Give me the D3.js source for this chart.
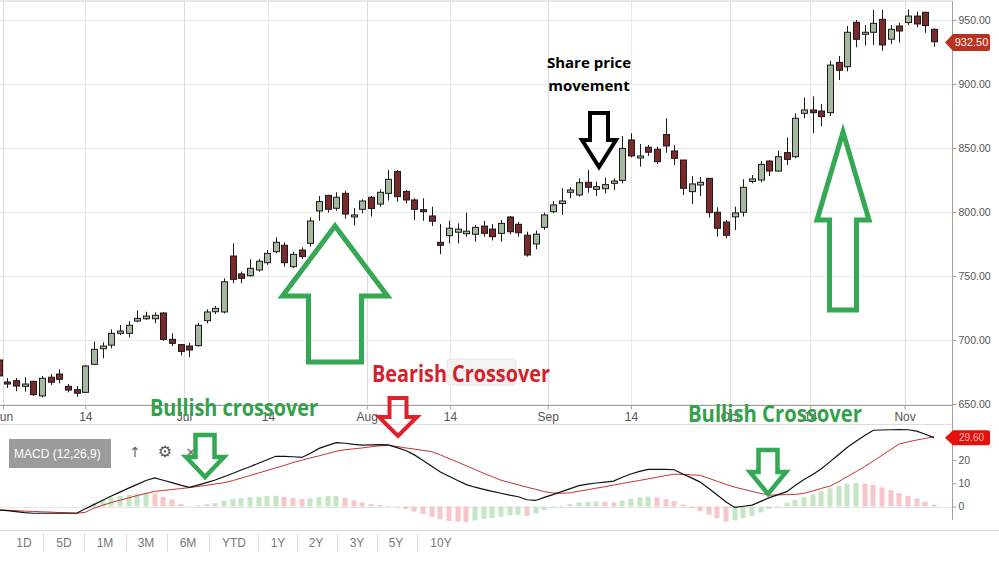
<!DOCTYPE html>
<html><head><meta charset="utf-8">
<script src="https://cdn.jsdelivr.net/npm/d3@7"></script>
<style>html,body{margin:0;padding:0;background:#fff;overflow:hidden}svg{display:block}</style>
</head><body><svg id="c" width="999" height="569"></svg>
<script>
// ---------- DATA ----------
const openP  = [684.4,667.2,668.2,663.8,667.7,656.3,670.9,673.4,663.8,661.2,659.1,681,693.2,696,705.2,705.2,714.8,716.6,716.6,721.1,700.5,696.4,695.3,695.6,715.1,722.1,721.9,765.6,751.6,750.2,754.7,760.4,769,774,757.3,770.3,775.5,800.8,813,802.9,814.6,796.2,802.1,811.5,806.2,814.6,831.7,816,809.4,801.8,796.9,776.3,781.5,784.2,783,782.6,789,786.7,783.3,796.1,790.4,781.9,775,788,800.2,806.6,815.4,813.3,823.2,817.7,818.2,822.4,824.7,856.3,842.2,850.6,849,860.5,847.7,840.6,815.9,821.1,826.3,799.8,792.2,796.2,799.8,823.9,825,839.8,832,846.4,843.2,877.1,879.7,878.9,877.6,916.9,913.5,948.2,939.8,940.4,950.5,935,945.3,948,953.1,956,942.7];
const highP  = [686,670.3,670.3,670.9,668.2,671.9,673.4,677.1,665.6,664,680.5,698.7,698.2,708.3,711.7,714.8,723.2,722.1,721.6,721.6,705.2,696.9,697.9,713.5,724,726.6,748.2,775.5,753.4,763,763.3,770.3,780.2,776.3,769,772.4,795.8,812.5,813.3,815.4,816.4,803.1,809.9,812.5,817.7,832.8,832.8,817.2,810.7,810.7,804.1,790.6,793.2,791.1,799.5,789.8,793.2,790.6,793.8,796.9,792.3,784.6,785.5,799.5,808.6,818.5,819.3,826.3,832.8,823.7,826.8,826.3,859.4,861.5,853.1,852.3,851.1,873.2,852.3,840.6,828.1,827.3,826.3,803.7,793.8,804.1,825.5,828.9,839.8,840.6,847.9,858.3,877.1,889.5,890.3,884.4,918.2,921.9,945.3,950,946.1,957.8,957.8,946.1,948,958.3,956.5,956.5,943.5];
const lowP   = [670,662.5,660,659.6,656.3,655.2,664.8,666.2,659.1,655.7,658.6,680.5,685.7,693.5,703.9,702.1,713.8,715.6,713,699.5,695.3,688,686.5,694.8,713,720.3,720.8,744.3,744.3,749.5,753.4,758.6,767.7,757.3,756,763.3,772.9,793.2,799.5,801,794.8,789.6,799,796.4,804.1,808.9,808,806.8,793.8,793.2,789.1,767,775.5,775.5,780.7,776.8,780.7,777.8,776.8,782.6,780.7,765.1,770.9,786,799,797.7,810.7,812,815.1,812.5,814.6,817.2,822.4,842.7,835.4,843.8,837.5,846.3,836.7,813.3,806.2,812.5,795.8,780.7,779.4,785.9,796.4,822.4,823.2,828.1,831.5,836.7,842,873.2,861.5,867.2,875,903.1,909.9,928.7,930,930.5,926,931.3,932.4,946.1,944.3,940,929.1];
const closeP = [671.9,665.6,664,665.6,657.3,670.1,667,669.3,660.9,658.4,679.7,692.7,695.3,705.2,707,711.5,716.9,718.7,719.3,700.5,697.4,691.1,692.2,711.5,721.9,724.7,745.5,747.4,748.2,756,761.5,767.7,776.3,760.4,766.9,765.1,793,808.1,802.1,811.5,798.4,797.7,808.6,802.7,815.4,825.5,812,809.4,802.1,800.8,792.8,774,787.3,786.6,785,788,783.3,780.7,791.1,784.6,783.8,766.4,782.7,797.7,805.5,808.6,817.2,822.9,819.3,819.8,821.4,824.2,849.7,843.8,843.8,846.7,839.3,851.6,841.9,818.5,821.9,823.2,799.5,787.3,781.8,799.3,819.3,825.8,837.2,832,843.2,841.1,873.2,879.7,877.6,874.5,914.8,910.7,940.4,934.9,940.4,947.4,930.5,942.7,941.4,953.1,946.9,945.6,933];
const macdLine   = [-1.5,-1.8,-2.2,-2.6,-2.9,-2.9,-2.9,-2.9,-2.9,-2.9,-1.0,0.8,2.7,4.5,6.2,7.9,9.5,11.2,12.3,11.3,10.3,9.2,8.2,9.2,10.3,11.4,12.8,14.2,15.7,17.1,18.6,20.1,21.6,21.6,21.4,21.1,22.9,25.0,26.3,27.5,27.2,26.7,26.4,26.5,26.6,26.5,25.3,24.1,22.2,19.8,17.3,14.8,13.0,11.2,9.4,8.3,7.4,6.5,5.7,4.9,4.2,2.9,2.6,3.9,5.1,6.4,7.7,9.0,9.6,10.1,10.5,10.9,12.6,14.0,15.1,16.0,16.0,16.0,15.8,14.0,12.3,10.5,7.7,4.8,1.9,-0.4,0.1,0.6,2.2,3.8,5.1,6.4,9.1,11.6,13.8,16.2,19.3,22.4,25.5,28.1,30.5,32.8,32.9,33.0,33.1,33.0,32.4,31.1,29.6];
const signalLine = [-1.5,-1.6,-1.8,-2.0,-2.1,-2.3,-2.4,-2.6,-2.7,-2.9,-2.5,-0.7,0.5,1.7,2.7,3.7,4.7,5.6,6.5,6.9,7.3,7.7,8.1,8.6,9.1,9.7,10.2,11.1,12.2,13.3,14.4,15.5,16.6,17.7,18.9,19.9,20.9,21.8,22.8,23.8,24.4,24.8,25.2,25.7,26.1,26.3,25.8,25.2,24.7,24.1,23.6,22.2,20.6,19.1,17.5,15.9,14.3,12.8,11.3,10.3,9.3,8.3,7.4,6.4,5.8,5.7,5.9,6.6,7.2,7.9,8.5,9.2,9.9,10.6,11.2,11.9,12.6,13.3,13.9,13.8,13.6,13.4,12.1,10.8,9.5,8.3,7.4,6.5,5.6,4.9,5.0,5.1,5.2,5.7,6.7,7.8,8.8,10.7,12.9,15.0,17.2,19.6,22.0,24.5,26.9,27.8,28.6,29.3,30.0];
const histogram  = [0.2,0.1,0,-0.1,0,0,-0.1,0,0,0,0.5,1.5,3.0,4.0,4.5,5.0,5.3,5.8,5.6,4.2,3.0,1.2,0.2,0.5,1.0,1.5,2.5,3.2,3.6,4.0,4.2,4.5,4.6,4.2,3.6,3.2,3.5,4.0,4.5,4.6,3.8,2.7,1.8,1.0,0.6,0.3,-0.3,-1.0,-2.2,-3.3,-4.5,-5.5,-6.2,-6.5,-6.8,-6.0,-5.4,-5.0,-4.4,-3.8,-3.5,-4.0,-3.0,-1.5,-0.5,0.3,1.0,1.8,2.0,2.1,2.0,1.8,2.6,3.4,3.9,4.2,3.9,3.2,2.4,0.8,-0.7,-2.0,-3.5,-5.0,-6.5,-6.0,-5.0,-4.0,-2.5,-1.0,0.3,1.5,2.8,4.0,5.2,6.5,7.8,8.8,9.8,10.2,9.8,9.3,8.2,7.0,5.8,4.6,3.5,2.0,0.8];
const timeTickLabels = ["Jun","14","Jul","14","Aug","14","Sep","14","Oct","14","Nov"];
const timeTickIndex  = [0.5,10,21.4,31.1,42.5,52.1,63.4,73,84.4,93.7,104.6];
const priceTicks = [650,700,750,800,850,900,950];
const macdTicks = [0,10,20];
const lastPrice = 932.50;
const rangeButtons = ["1D","5D","1M","3M","6M","YTD","1Y","2Y","3Y","5Y","10Y"];

// ---------- LAYOUT ----------
const svg = d3.select("#c");
const W = 999, axisX = 952;
const x = d3.scaleLinear().domain([0, openP.length - 1]).range([-1.3, 934]);
const y = d3.scaleLinear().domain([650, 950]).range([404, 20]);
const ym = d3.scaleLinear().domain([0, 20]).range([506.5, 460]);
const AX = "Liberation Sans, Arial, sans-serif";

// top border
svg.append("line").attr("x1",0).attr("x2",axisX).attr("y1",1).attr("y2",1).attr("stroke","#d0d0d0");

// grid
const grid = svg.append("g");
grid.selectAll(".hg").data(priceTicks).join("line")
  .attr("x1",0).attr("x2",axisX).attr("y1",d=>Math.round(y(d))+0.5).attr("y2",d=>Math.round(y(d))+0.5)
  .attr("stroke","#ebebeb");
grid.selectAll(".vg").data(timeTickIndex).join("line")
  .attr("x1",d=>Math.round(x(d))+0.5).attr("x2",d=>Math.round(x(d))+0.5).attr("y1",1).attr("y2",405)
  .attr("stroke",(d,i)=> timeTickLabels[i].length===3 ? "#dcdcdc" : "#e8e8e8");

// candles
const idx = d3.range(openP.length);
const cg = svg.append("g");
cg.selectAll("line.w").data(idx).join("line")
  .attr("x1",i=>Math.round(x(i))+0.5).attr("x2",i=>Math.round(x(i))+0.5)
  .attr("y1",i=>y(highP[i])).attr("y2",i=>y(lowP[i]))
  .attr("stroke","#1a1a1a").attr("stroke-width",1);
cg.selectAll("rect.b").data(idx).join("rect")
  .attr("x",i=>Math.round(x(i))-2.5).attr("width",6)
  .attr("y",i=>y(Math.max(openP[i],closeP[i])))
  .attr("height",i=>Math.max(2, Math.abs(y(openP[i])-y(closeP[i]))))
  .attr("fill",i=> closeP[i]>=openP[i] ? "#a4b99d" : "#7a2a2a")
  .attr("stroke","#1a1a1a").attr("stroke-width",1);

// price axis
svg.append("line").attr("x1",axisX+0.5).attr("x2",axisX+0.5).attr("y1",1).attr("y2",520).attr("stroke","#a0a0a0");
const ya = svg.append("g").attr("transform",`translate(${axisX+0.5},0)`)
  .call(d3.axisRight(y).tickValues(priceTicks).tickFormat(d3.format(".2f")).tickSize(4).tickPadding(2));
ya.select(".domain").remove();
ya.selectAll("line").attr("stroke","#a0a0a0");
ya.selectAll("text").attr("fill","#555").style("font-family",AX).style("font-size","10.5px");

// x axis
svg.append("line").attr("x1",0).attr("x2",axisX).attr("y1",405.5).attr("y2",405.5).attr("stroke","#a0a0a0");
svg.append("line").attr("x1",0).attr("x2",axisX).attr("y1",424.5).attr("y2",424.5).attr("stroke","#dedede");
const xa = svg.append("g").attr("transform","translate(0,405.5)")
  .call(d3.axisBottom(x).tickValues(timeTickIndex).tickFormat((d,i)=>timeTickLabels[i]).tickSize(4).tickPadding(3));
xa.select(".domain").remove();
xa.selectAll("line").attr("stroke","#a0a0a0");
xa.selectAll("text").attr("fill","#555").style("font-family",AX).style("font-size","12px");

// last price tag
const ly = y(lastPrice);
svg.append("path")
  .attr("d",`M945,${ly} L953,${ly-8.5} L988,${ly-8.5} Q990,${ly-8.5} 990,${ly-6.5} L990,${ly+6.5} Q990,${ly+8.5} 988,${ly+8.5} L953,${ly+8.5} Z`)
  .attr("fill","#b8321f");
svg.append("text").attr("x",971.5).attr("y",ly+4).attr("text-anchor","middle")
  .attr("fill","#fff").style("font-family",AX).style("font-size","11px").text(d3.format(".2f")(lastPrice));

// ---------- MACD PANE ----------
svg.append("line").attr("x1",0).attr("x2",axisX).attr("y1",Math.round(ym(0))+0.5).attr("y2",Math.round(ym(0))+0.5).attr("stroke","#e6e6e6");
const hg = svg.append("g");
hg.selectAll("rect").data(idx).join("rect")
  .attr("x",i=>Math.round(x(i))-2.5).attr("width",5)
  .attr("y",i=>Math.min(ym(histogram[i]),ym(0)))
  .attr("height",i=>Math.abs(ym(histogram[i])-ym(0)))
  .attr("fill",i=> (i===0 || histogram[i]>=histogram[i-1]) ? "#c4e6c4" : "#f6c6c8");
const lineGen = arr => d3.line().x((d,i)=>x(i)).y(d=>ym(d))(arr);
svg.append("path").attr("d",lineGen(signalLine)).attr("fill","none").attr("stroke","#c9302c").attr("stroke-width",1);
svg.append("path").attr("d",lineGen(macdLine)).attr("fill","none").attr("stroke","#111").attr("stroke-width",1.2);

const ma = svg.append("g").attr("transform",`translate(${axisX+0.5},0)`)
  .call(d3.axisRight(ym).tickValues(macdTicks).tickSize(4).tickPadding(2));
ma.select(".domain").remove();
ma.selectAll("line").attr("stroke","#a0a0a0");
ma.selectAll("text").attr("fill","#555").style("font-family",AX).style("font-size","10.5px");

const my = ym(macdLine[macdLine.length-1]);
svg.append("path")
  .attr("d",`M945,${my} L953,${my-7.5} L988,${my-7.5} Q990,${my-7.5} 990,${my-5.5} L990,${my+5.5} Q990,${my+7.5} 988,${my+7.5} L953,${my+7.5} Z`)
  .attr("fill","#e3120b");
svg.append("text").attr("x",971.5).attr("y",my+3.5).attr("text-anchor","middle")
  .attr("fill","#fbb").style("font-family",AX).style("font-size","10px")
  .text(d3.format(".2f")(macdLine[macdLine.length-1]));

// MACD label + icons
svg.append("rect").attr("x",9).attr("y",439).attr("width",102).attr("height",29).attr("fill","#9b9b9b");
svg.append("text").attr("x",14).attr("y",458).attr("fill","#fff").style("font-family",AX).style("font-size","12px").text("MACD (12,26,9)");
svg.append("text").attr("x",135).attr("y",457).attr("text-anchor","middle").attr("fill","#666").style("font-family","DejaVu Sans").style("font-size","14px").text("↑");
svg.append("text").attr("x",165).attr("y",457).attr("text-anchor","middle").attr("fill","#555").style("font-family","DejaVu Sans").style("font-size","16px").text("⚙");
svg.append("text").attr("x",191).attr("y",457).attr("text-anchor","middle").attr("fill","#666").style("font-family","DejaVu Sans").style("font-size","13px").text("✕");

// range buttons
svg.append("line").attr("x1",0).attr("x2",W).attr("y1",530.5).attr("y2",530.5).attr("stroke","#e0e0e0");
const btnX = [24,64,105,146,188,234,278,316,357,396,441];
const sepX = [43,84,126,167,209,258,297,337,377,417];
svg.selectAll("text.btn").data(rangeButtons).join("text")
  .attr("x",(d,i)=>btnX[i]).attr("y",547).attr("text-anchor","middle")
  .attr("fill","#777").style("font-family",AX).style("font-size","12px").text(d=>d);
svg.selectAll("line.sep").data(sepX).join("line")
  .attr("x1",d=>d+0.5).attr("x2",d=>d+0.5).attr("y1",533).attr("y2",552).attr("stroke","#e0e0e0");

// ---------- ANNOTATIONS ----------
function arrowPath(cx, start, headY, tip, sh, hh){
  return `M${cx-sh},${start} L${cx+sh},${start} L${cx+sh},${headY} L${cx+hh},${headY} L${cx},${tip} L${cx-hh},${headY} L${cx-sh},${headY} Z`;
}
const GREEN = "#34a853", RED = "#e0202b";
const ann = svg.append("g").attr("fill","none").attr("stroke-linejoin","miter");
ann.append("path").attr("d",arrowPath(335,362,296,226,26.5,52.5)).attr("stroke",GREEN).attr("stroke-width",5);
ann.append("path").attr("d",arrowPath(843,310,220,132,13.5,26)).attr("stroke",GREEN).attr("stroke-width",5);
ann.append("path").attr("d",arrowPath(599,113,140,167,9,17)).attr("stroke","#000").attr("stroke-width",4);
ann.append("path").attr("d",arrowPath(205,435,457,477,9.5,19)).attr("stroke",GREEN).attr("stroke-width",4.5);
ann.append("path").attr("d",arrowPath(768,450,472,494,9.5,18)).attr("stroke",GREEN).attr("stroke-width",4.5);

// faint tooltip box behind bearish text
svg.append("rect").attr("x",447).attr("y",359).attr("width",69).attr("height",26).attr("rx",3)
  .attr("fill","#f3f3f3").attr("stroke","#e6e6e6");
ann.append("path").attr("d",arrowPath(398,398,417,436,8.5,19)).attr("stroke",RED).attr("stroke-width",4);

const TF = "'Open Sans', 'Noto Sans', sans-serif";
svg.append("text").attr("x",589).attr("y",68).attr("text-anchor","middle").attr("fill","#000")
  .style("font-family",TF).style("font-weight","700").style("font-size","15px").text("Share price");
svg.append("text").attr("x",589).attr("y",91).attr("text-anchor","middle").attr("fill","#000")
  .style("font-family",TF).style("font-weight","700").style("font-size","15px").text("movement");

function bigText(txt, x0, base, w, color){
  svg.append("text").attr("x",x0).attr("y",base).attr("fill",color)
    .attr("textLength",w).attr("lengthAdjust","spacingAndGlyphs")
    .style("font-family",TF).style("font-weight","700").style("font-size","23px").text(txt);
}
bigText("Bullish crossover",150,416,168,"#33a04a");
bigText("Bearish Crossover",372,382,178,"#d8202b");
bigText("Bullish Crossover",688,422,174,"#33a04a");
</script></body></html>
